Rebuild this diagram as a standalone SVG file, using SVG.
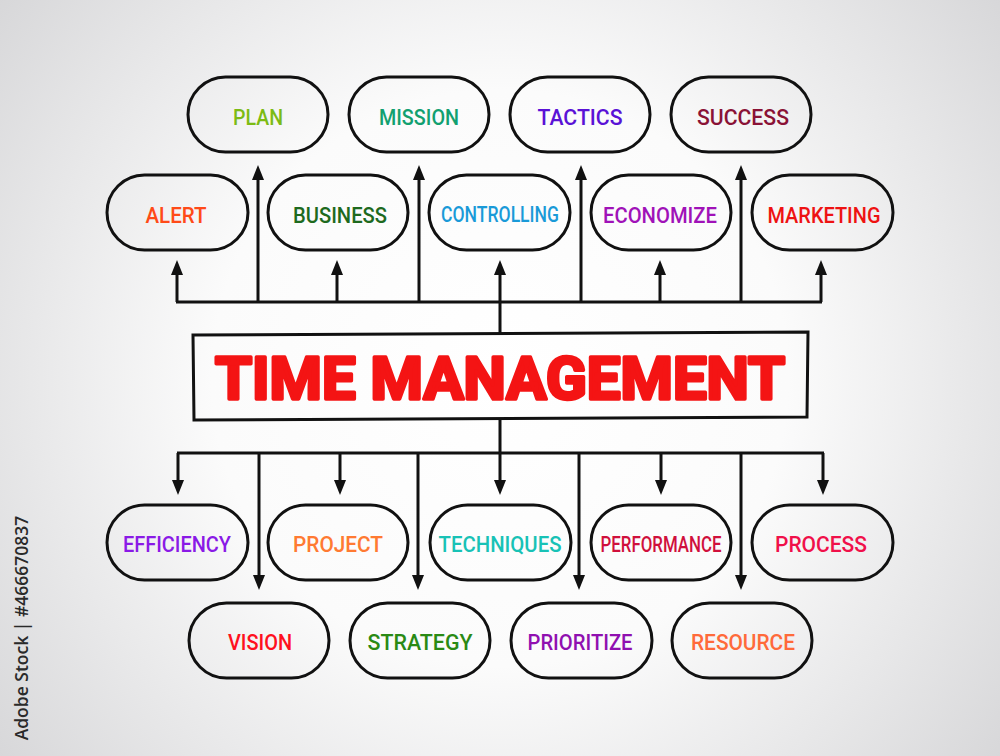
<svg xmlns="http://www.w3.org/2000/svg" width="1000" height="756" viewBox="0 0 1000 756">
<defs>
<radialGradient id="bg" cx="500" cy="378" r="640" gradientUnits="userSpaceOnUse">
<stop offset="0" stop-color="#ffffff"/>
<stop offset="0.45" stop-color="#fbfbfb"/>
<stop offset="1" stop-color="#d6d6d8"/>
</radialGradient>
<marker id="ah" markerUnits="userSpaceOnUse" markerWidth="15" markerHeight="12" viewBox="0 0 15 12" refX="9" refY="6" orient="auto">
<path d="M0,0 L15,6 L0,12 z" fill="#111"/>
</marker>
</defs>
<style>
.pill{fill:none;stroke:#111;stroke-width:3}
.lbl{font-family:Roboto,"Liberation Sans",Arial,sans-serif;font-weight:500;font-size:22px;text-anchor:middle}
.ln{fill:none;stroke:#111;stroke-width:3}
.arr{fill:none;stroke:#111;stroke-width:3;marker-end:url(#ah)}
</style>
<rect width="1000" height="756" fill="url(#bg)"/>
<text x="0" y="0" transform="translate(28,628) rotate(-90)" font-family="'Open Sans','Liberation Sans',sans-serif" font-weight="600" font-size="17.5" fill="#2a2a2a" text-anchor="middle">Adobe Stock | #466670837</text>

<g id="connectors">
<path class="ln" d="M176,302 H822"/>
<path class="arr" d="M500,334 V266"/>
<path class="arr" d="M177,302 V266"/>
<path class="arr" d="M337,302 V266"/>
<path class="arr" d="M660,302 V266"/>
<path class="arr" d="M821,302 V266"/>
<path class="arr" d="M258,302 V171"/>
<path class="arr" d="M419,302 V171"/>
<path class="arr" d="M581,302 V171"/>
<path class="arr" d="M741,302 V171"/>
<path class="ln" d="M177,453 H824"/>
<path class="arr" d="M500,419 V489"/>
<path class="arr" d="M178,453 V489"/>
<path class="arr" d="M340,453 V489"/>
<path class="arr" d="M661,453 V489"/>
<path class="arr" d="M823,453 V489"/>
<path class="arr" d="M259,453 V584"/>
<path class="arr" d="M418,453 V584"/>
<path class="arr" d="M579,453 V584"/>
<path class="arr" d="M741,453 V584"/>
</g>

<g id="center">
<polygon points="193,335 808,332 807,417 194,420" fill="none" stroke="#111" stroke-width="3"/>
<text x="500" y="399" font-family="Roboto,'Liberation Sans',Arial,sans-serif" font-weight="700" font-size="60" fill="#f41414" stroke="#f41414" stroke-width="3.5" stroke-linejoin="round" text-anchor="middle" textLength="570" lengthAdjust="spacingAndGlyphs">TIME MANAGEMENT</text>
</g>

<g id="plan"><rect class="pill" x="188" y="77" width="140" height="75" rx="37.5"/><text class="lbl" x="258" y="125" fill="#7cbb14" textLength="50" lengthAdjust="spacingAndGlyphs">PLAN</text></g>
<g id="mission"><rect class="pill" x="349" y="77" width="140" height="75" rx="37.5"/><text class="lbl" x="419" y="125" fill="#12a070" textLength="80" lengthAdjust="spacingAndGlyphs">MISSION</text></g>
<g id="tactics"><rect class="pill" x="510" y="77" width="140" height="75" rx="37.5"/><text class="lbl" x="580" y="125" fill="#5a12d6" textLength="85" lengthAdjust="spacingAndGlyphs">TACTICS</text></g>
<g id="success"><rect class="pill" x="671" y="77" width="140" height="75" rx="37.5"/><text class="lbl" x="743" y="125" fill="#8a1236" textLength="92" lengthAdjust="spacingAndGlyphs">SUCCESS</text></g>

<g id="alert"><rect class="pill" x="107" y="175" width="141" height="75" rx="37.5"/><text class="lbl" x="176" y="223" fill="#ff4a18" textLength="61" lengthAdjust="spacingAndGlyphs">ALERT</text></g>
<g id="business"><rect class="pill" x="268" y="175" width="140" height="75" rx="37.5"/><text class="lbl" x="340" y="223" fill="#1e6a1e" textLength="94" lengthAdjust="spacingAndGlyphs">BUSINESS</text></g>
<g id="controlling"><rect class="pill" x="429" y="175" width="141" height="75" rx="37.5"/><text class="lbl" x="500" y="222" fill="#1a9ad8" font-size="20" textLength="118" lengthAdjust="spacingAndGlyphs">CONTROLLING</text></g>
<g id="economize"><rect class="pill" x="591" y="175" width="140" height="75" rx="37.5"/><text class="lbl" x="660" y="223" fill="#a012b8" textLength="114" lengthAdjust="spacingAndGlyphs">ECONOMIZE</text></g>
<g id="marketing"><rect class="pill" x="752" y="175" width="141" height="75" rx="37.5"/><text class="lbl" x="824" y="223" fill="#ee1212" textLength="113" lengthAdjust="spacingAndGlyphs">MARKETING</text></g>

<g id="efficiency"><rect class="pill" x="107" y="505" width="141" height="75" rx="37.5"/><text class="lbl" x="177" y="552" fill="#8a1ae6" textLength="108" lengthAdjust="spacingAndGlyphs">EFFICIENCY</text></g>
<g id="project"><rect class="pill" x="268" y="505" width="140" height="75" rx="37.5"/><text class="lbl" x="338" y="552" fill="#ff7a32" textLength="90" lengthAdjust="spacingAndGlyphs">PROJECT</text></g>
<g id="techniques"><rect class="pill" x="430" y="505" width="141" height="75" rx="37.5"/><text class="lbl" x="500" y="552" fill="#18c2b6" textLength="123" lengthAdjust="spacingAndGlyphs">TECHNIQUES</text></g>
<g id="performance"><rect class="pill" x="591" y="505" width="140" height="75" rx="37.5"/><text class="lbl" x="661" y="552" fill="#d0103c" font-size="19" textLength="121" lengthAdjust="spacingAndGlyphs">PERFORMANCE</text></g>
<g id="process"><rect class="pill" x="752" y="505" width="141" height="75" rx="37.5"/><text class="lbl" x="821" y="552" fill="#f0104a" textLength="92" lengthAdjust="spacingAndGlyphs">PROCESS</text></g>

<g id="vision"><rect class="pill" x="189" y="603" width="140" height="75" rx="37.5"/><text class="lbl" x="260" y="650" fill="#ff1020" textLength="64" lengthAdjust="spacingAndGlyphs">VISION</text></g>
<g id="strategy"><rect class="pill" x="350" y="603" width="140" height="75" rx="37.5"/><text class="lbl" x="420" y="650" fill="#2a8a14" textLength="105" lengthAdjust="spacingAndGlyphs">STRATEGY</text></g>
<g id="prioritize"><rect class="pill" x="511" y="603" width="141" height="75" rx="37.5"/><text class="lbl" x="580" y="650" fill="#9010b0" textLength="105" lengthAdjust="spacingAndGlyphs">PRIORITIZE</text></g>
<g id="resource"><rect class="pill" x="672" y="603" width="140" height="75" rx="37.5"/><text class="lbl" x="743" y="650" fill="#ff6a3a" textLength="104" lengthAdjust="spacingAndGlyphs">RESOURCE</text></g>
</svg>
